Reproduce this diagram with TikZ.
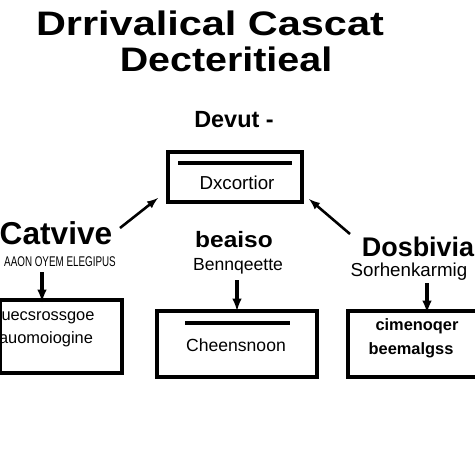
\documentclass[tikz,border=0pt]{standalone}
\usepackage{fontspec}
\usepackage{graphicx}
\setmainfont{Liberation Sans}
\usetikzlibrary{positioning}

\tikzset{
  head/.style={font=\bfseries, inner sep=0pt},
  plain/.style={inner sep=0pt}
}

\begin{document}
\begin{tikzpicture}[x=0.03cm, y=-0.03cm]
  \useasboundingbox (0,0) rectangle (474,474);
  \fill[white] (0,0) rectangle (474,474);

  % title
  \node[head] (t1) at (210,23) {\fontsize{29}{29}\selectfont \scalebox{1.22}[1]{Drrivalical Cascat}};
  \node[head] (t2) at (226,59) {\fontsize{29}{29}\selectfont \scalebox{1.16}[1]{Decteritieal}};

  % top box
  \node[head] (top) at (234,120) {\fontsize{20}{20}\selectfont Devut -};
  \draw[line width=2.6pt] (168,152) rectangle (302,202);
  \draw[line width=2.6pt] (178,163) -- (292,163);
  \node[plain] (dx) at (237,183) {\fontsize{16}{16}\selectfont Dxcortior};

  % left branch
  \node[head] (cat) at (56,233) {\fontsize{27}{27}\selectfont Catvive};
  \node[plain] (catsub) at (60,262) {\fontsize{12}{12}\selectfont \scalebox{0.7}[1]{AAON OYEM ELEGIPUS}};
  \draw[line width=2.6pt] (0,300) rectangle (122,373);
  \node[plain] (l1) at (48,318) {\fontsize{14}{14}\selectfont uecsrossgoe};
  \node[plain] (l2) at (46,339) {\fontsize{14}{14}\selectfont auomoiogine};

  % middle branch
  \node[head] (mid) at (234,240) {\fontsize{19}{19}\selectfont \scalebox{1.1}[1]{beaiso}};
  \node[plain] (midsub) at (238,266) {\fontsize{15}{15}\selectfont Bennqeette};
  \draw[line width=2.6pt] (157,311) rectangle (317,377);
  \draw[line width=2.6pt] (185,323) -- (290,323);
  \node[plain] (m1) at (236,345) {\fontsize{15}{15}\selectfont Cheensnoon};

  % right branch
  \node[head] (dos) at (418,247) {\fontsize{23}{23}\selectfont Dosbivia};
  \node[plain] (dossub) at (409,272) {\fontsize{16}{16}\selectfont Sorhenkarmig};
  \draw[line width=2.6pt] (348,311) rectangle (480,377);
  \node[head] (r1) at (417,326) {\fontsize{14}{14}\selectfont cimenoqer};
  \node[head] (r2) at (411,350) {\fontsize{14}{14}\selectfont beemalgss};

  % arrows
  \coordinate (la) at (120,228);
  \coordinate (ra) at (350,234);
  \coordinate (lt) at (158,198);
  \coordinate (rt) at (309,199);
  \coordinate (ls) at (42,272);
  \coordinate (le) at (42,302);
  \coordinate (ms) at (237,280);
  \coordinate (me) at (237,311);
  \coordinate (rs) at (427,283);
  \coordinate (re) at (427,313);
  \draw[-latex, line width=2.2pt] (la) -- (lt);
  \draw[-latex, line width=2.2pt] (ra) -- (rt);
  \draw[-latex, line width=2.6pt] (ls) -- (le);
  \draw[-latex, line width=2.6pt] (ms) -- (me);
  \draw[-latex, line width=2.6pt] (rs) -- (re);
\end{tikzpicture}
\end{document}
